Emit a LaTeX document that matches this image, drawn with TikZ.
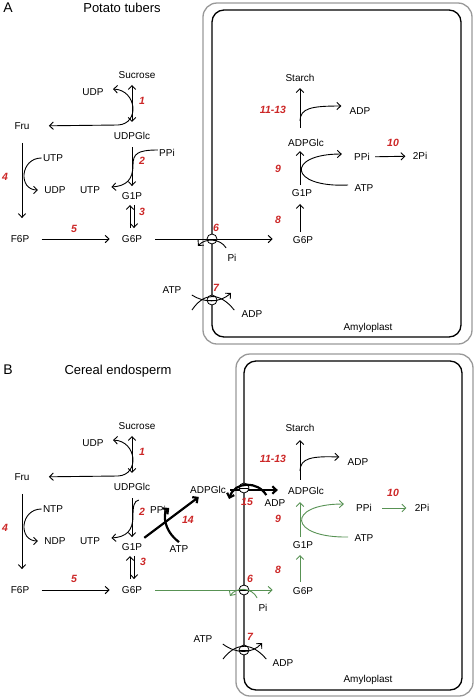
\documentclass[tikz,border=0pt]{standalone}
\usepackage{fontspec}
\setmainfont{Liberation Sans}
\usepackage{tikz}
\usetikzlibrary{arrows.meta,positioning,calc}
\definecolor{enzred}{RGB}{204,38,38}
\definecolor{plgreen}{RGB}{88,146,84}

\begin{document}
\begin{tikzpicture}[x=1pt, y=-1pt, ->, >={Straight Barb[length=3.8pt,width=7.5pt]}, line width=0.9pt]
	\tikzstyle{met}=[font=\fontsize{10}{12}\selectfont, inner sep=1pt]
	\tikzstyle{enz}=[font=\fontsize{10.5}{12}\selectfont\bfseries\itshape, text=enzred, inner sep=0pt]
	\tikzstyle{panel}=[font=\fontsize{14}{16}\selectfont, inner sep=0pt]
	\tikzstyle{heading}=[font=\fontsize{13}{15}\selectfont, inner sep=0pt]
	\tikzstyle{envelope}=[-, draw=black!40, line width=1.3pt, rounded corners=14pt]
	\tikzstyle{membrane}=[-, draw=black, line width=1.3pt, rounded corners=12pt]
	\tikzstyle{porter}=[circle, draw, fill=white, line width=0.8pt, minimum size=10pt, inner sep=0pt,
		path picture={\draw[-] (path picture bounding box.west) -- (path picture bounding box.east);}]
	\tikzstyle{heavy}=[line width=2.2pt]
	\useasboundingbox (0,0) rectangle (474,697);

	% ---- A: potato tubers ----
	\node[panel] (labA) at (8,8) {A};
	\node[heading] (headA) at (122,8) {Potato tubers};
	\draw[envelope] (203,3) rectangle (472,344);
	\draw[membrane] (212,10) rectangle (461,337);

	\node[met] (sucA)   at (137,75)  {Sucrose};
	\node[met] (udpA)   at (93,92)   {UDP};
	\node[met] (fruA)   at (22,126)  {Fru};
	\node[met] (udpgA)  at (132,136) {UDPGlc};
	\node[met] (ppiA)   at (167,153) {PPi};
	\node[met] (utpA)   at (53,158)  {UTP};
	\node[met] (udpbA)  at (55,190)  {UDP};
	\node[met] (utpbA)  at (90,190)  {UTP};
	\node[met] (gonepA) at (132,196) {G1P};
	\node[met] (fsixpA) at (20,239)  {F6P};
	\node[met] (gsixpA) at (132,239) {G6P};
	\node[met] (piA)    at (232,258) {Pi};
	\node[met] (atpA)   at (172,290) {ATP};
	\node[met] (adpA)   at (252,314) {ADP};
	\node[met] (amyA)   at (368,328) {Amyloplast};
	\node[met] (stA)     at (300,78)  {Starch};
	\node[met] (adpsA)   at (360,111) {ADP};
	\node[met] (adpgA)   at (306,143) {ADPGlc};
	\node[met] (ppisA)   at (362,157) {PPi};
	\node[met] (twopiA)  at (420,156) {2Pi};
	\node[met] (atpsA)   at (364,188) {ATP};
	\node[met] (gonepsA) at (302,193) {G1P};
	\node[met] (gsixpsA) at (303,240) {G6P};

	\node[enz] (rA1)  at (142,101) {1};
	\node[enz] (rA2)  at (142,161) {2};
	\node[enz] (rA3)  at (142,212) {3};
	\node[enz] (rA4)  at (5,177)   {4};
	\node[enz] (rA5)  at (74,229)  {5};
	\node[enz] (rA6)  at (216,228) {6};
	\node[enz] (rA7)  at (216,288) {7};
	\node[enz] (rA8)  at (278,220) {8};
	\node[enz] (rA9)  at (278,169) {9};
	\node[enz] (rA10) at (393,143) {10};
	\node[enz] (rA11) at (273,110) {11-13};

	\path (sucA.south -| udpgA) edge[<->, shorten <=5pt, shorten >=9pt] (udpgA.north)
	      (udpgA) edge[shorten <=6pt, shorten >=5pt] (gonepA)
	      ([xshift=-2pt]gsixpA.north) edge[shorten <=6pt, shorten >=4pt] ([xshift=-2pt]gonepA.south)
	      ([xshift=2pt]gonepA.south) edge[shorten <=4pt, shorten >=6pt] ([xshift=2pt]gsixpA.north)
	      (fruA.south) edge[shorten <=12pt, shorten >=16pt] (fruA.south |- fsixpA.north)
	      (fsixpA) edge[shorten <=11pt, shorten >=11pt] (gsixpA)
	      (gsixpA) edge[shorten <=12pt, shorten >=19pt] (gsixpsA.west |- gsixpA)
	      (adpgA.north -| stA) edge[shorten <=10pt, shorten >=5pt] (stA.south)
	      (gonepsA.north -| stA) edge[shorten <=3pt, shorten >=3pt] (adpgA.south -| stA)
	      (gsixpsA.north -| stA) edge[shorten <=3pt, shorten >=6pt] (gonepsA.south -| stA)
	      (ppisA) edge[shorten <=4pt, shorten >=6pt] (twopiA);
	\draw[<->, shorten >=18pt] ([xshift=8pt,yshift=-2pt]udpA.north east) .. controls (137,90) and (140,124) .. (118,125) -- (fruA.east);
	\draw ([yshift=3pt]ppiA.west) .. controls (137,150) and (133,154) .. (133,165) .. controls (133,180) and (126,186) .. ([xshift=10pt,yshift=3pt]utpbA.east);
	\draw (utpA.west) .. controls (20,158) and (18,190) .. ([xshift=-5pt]udpbA.west);
	\coordinate (brA) at (300,121);
	\draw (brA) .. controls (300,108) and (312,106) .. ([xshift=-7pt,yshift=5pt]adpsA.west);
	\draw ([xshift=-5pt,yshift=3pt]atpsA.west) .. controls (288,188) and (286,154) .. ([xshift=-11pt,yshift=3pt]ppisA.west);

	\node[porter] (psixA) at (212,239) {};
	\node[porter] (psevA) at (212,300) {};
	\draw ([yshift=5pt]piA.north west) .. controls (220,238) and (205,238) .. (198,246);
	\draw ([xshift=9pt,yshift=-5pt]atpA.east) .. controls (204,303) and (220,303) .. (231,293);
	\draw[-] ([xshift=-6pt,yshift=-1pt]adpA.north west) .. controls (220,292) and (204,292) .. (192,310);

	% ---- B: cereal endosperm ----
	\node[panel] (labB) at (8,370) {B};
	\node[heading] (headB) at (118,371) {Cereal endosperm};
	\draw[envelope] (236,354) rectangle (473,696);
	\draw[membrane] (244,361) rectangle (462,690);

	\node[met] (sucB)   at (137,426) {Sucrose};
	\node[met] (udpB)   at (93,443)  {UDP};
	\node[met] (fruB)   at (22,477)  {Fru};
	\node[met] (udpgB)  at (132,487) {UDPGlc};
	\node[met] (ppiB)   at (158,510) {PPi};
	\node[met] (ntpB)   at (53,509)  {NTP};
	\node[met] (ndpB)   at (55,541)  {NDP};
	\node[met] (utpbB)  at (90,541)  {UTP};
	\node[met] (gonepB) at (132,547) {G1P};
	\node[met] (atpfB)  at (179,549) {ATP};
	\node[met] (fsixpB) at (20,590)  {F6P};
	\node[met] (gsixpB) at (132,590) {G6P};
	\node[met] (adpgoB) at (208,490) {ADPGlc};
	\node[met] (adpxB)  at (275,503) {ADP};
	\node[met] (piB)    at (263,608) {Pi};
	\node[met] (atpB)   at (203,639) {ATP};
	\node[met] (adpB)   at (283,663) {ADP};
	\node[met] (amyB)   at (368,680) {Amyloplast};
	\node[met] (stB)     at (300,428) {Starch};
	\node[met] (adpsB)   at (358,462) {ADP};
	\node[met] (adpgB)   at (306,491) {ADPGlc};
	\node[met] (ppisB)   at (364,508) {PPi};
	\node[met] (twopiB)  at (422,508) {2Pi};
	\node[met] (atpsB)   at (364,538) {ATP};
	\node[met] (gonepsB) at (303,545) {G1P};
	\node[met] (gsixpsB) at (303,591) {G6P};

	\node[enz] (rB1)  at (142,452) {1};
	\node[enz] (rB2)  at (142,512) {2};
	\node[enz] (rB3)  at (143,562) {3};
	\node[enz] (rB4)  at (5,528)   {4};
	\node[enz] (rB5)  at (74,579)  {5};
	\node[enz] (rB6)  at (250,579) {6};
	\node[enz] (rB7)  at (250,637) {7};
	\node[enz] (rB8)  at (278,570) {8};
	\node[enz] (rB9)  at (278,519) {9};
	\node[enz] (rB10) at (393,493) {10};
	\node[enz] (rB11) at (273,459) {11-13};
	\node[enz] (rB14) at (188,520) {14};
	\node[enz] (rB15) at (247,502) {15};

	\path (sucB.south -| udpgB) edge[<->, shorten <=5pt, shorten >=9pt] (udpgB.north)
	      (udpgB) edge[shorten <=6pt, shorten >=5pt] (gonepB)
	      ([xshift=-2pt]gsixpB.north) edge[shorten <=6pt, shorten >=4pt] ([xshift=-2pt]gonepB.south)
	      ([xshift=2pt]gonepB.south) edge[shorten <=4pt, shorten >=6pt] ([xshift=2pt]gsixpB.north)
	      (fruB.south) edge[shorten <=12pt, shorten >=16pt] (fruB.south |- fsixpB.north)
	      (fsixpB) edge[shorten <=11pt, shorten >=11pt] (gsixpB)
	      (gsixpB) edge[plgreen, shorten <=12pt, shorten >=19pt] (gsixpsB.west |- gsixpB)
	      (adpgB.north -| stB) edge[shorten <=6pt, shorten >=7pt] (stB.south)
	      (gonepsB.north -| stB) edge[plgreen, shorten <=3pt, shorten >=6pt] (adpgB.south -| stB)
	      (gsixpsB.north -| stB) edge[plgreen, shorten <=4pt, shorten >=5pt] (gonepsB.south -| stB)
	      (ppisB) edge[plgreen, shorten <=9pt, shorten >=7pt] (twopiB)
	      (gonepB) edge[heavy, shorten <=7pt, shorten >=3pt] (adpgoB)
	      (adpgoB) edge[heavy, shorten <=3pt, shorten >=9pt] (adpgB.west |- adpgoB);
	\draw[<->, shorten >=18pt] ([xshift=8pt,yshift=-2pt]udpB.north east) .. controls (137,441) and (140,475) .. (118,476) -- (fruB.east);
	\draw ([xshift=-10pt,yshift=10pt]ppiB.west) .. controls (134,501) and (133,506) .. (133,516) .. controls (133,531) and (126,537) .. ([xshift=10pt,yshift=3pt]utpbB.east);
	\draw (ntpB.west) .. controls (20,509) and (18,541) .. ([xshift=-5pt]ndpB.west);
	\draw[heavy] ([yshift=2pt]atpfB.north) .. controls (163,530) and (163,513) .. ([xshift=2pt,yshift=2pt]ppiB.east);
	\coordinate (brB) at (300,471);
	\draw (brB) .. controls (300,458) and (312,456) .. ([xshift=-7pt,yshift=5pt]adpsB.west);
	\draw[plgreen] ([xshift=-5pt,yshift=1pt]atpsB.west) .. controls (288,538) and (286,504) .. ([xshift=-11pt,yshift=4pt]ppisB.west);

	\node[porter] (pfifB) at (244,488) {};
	\node[porter] (psixB) at (244,590) {};
	\node[porter] (psevB) at (244,650) {};
	\draw[heavy] ([xshift=3pt,yshift=3pt]adpxB.north west) .. controls (258,481) and (235,481) .. (229,499);
	\draw[plgreen] ([yshift=5pt]piB.north west) .. controls (252,587) and (236,587) .. (230,596);
	\draw ([xshift=9pt,yshift=-5pt]atpB.east) .. controls (236,654) and (252,654) .. (262,643);
	\draw[-] ([xshift=-5pt,yshift=-1pt]adpB.north west) .. controls (252,642) and (236,642) .. (223,659);
\end{tikzpicture}
\end{document}
